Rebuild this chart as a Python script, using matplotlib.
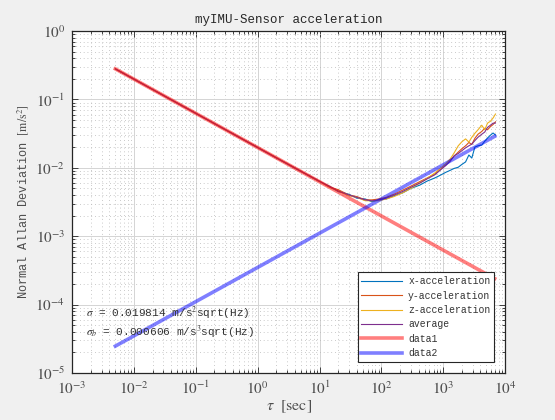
import math
import matplotlib
matplotlib.use("Agg")
import matplotlib.pyplot as plt
from matplotlib.ticker import LogLocator, FuncFormatter, NullFormatter

plt.rcParams['mathtext.fontset'] = 'stix'

# ---------------- data ----------------
tau = [0.005, 0.01, 0.02, 0.05, 0.1, 0.2, 0.5, 1, 2, 5, 10,
       15, 20, 30, 40, 55, 70, 90, 120, 160, 220, 300, 420, 550, 730,
       900, 1100, 1300, 1500, 1750, 2000, 2300, 2600, 2900, 3250, 3650,
       4200, 4700, 5200, 5800, 6400, 7000]

x_acc = [0.279, 0.198, 0.140, 0.0885, 0.0626, 0.0443, 0.0280, 0.0198, 0.0140, 0.00888, 0.00632,
         0.0053, 0.0045, 0.0041, 0.0036, 0.0035, 0.0032, 0.0034, 0.0035, 0.0039, 0.0043, 0.0050,
         0.0056, 0.0064, 0.0071,
         0.0078, 0.0086, 0.0092, 0.0098, 0.0102, 0.0112, 0.0122, 0.0154, 0.0139, 0.0201, 0.0210,
         0.0215, 0.0245, 0.0273, 0.0300, 0.0323, 0.0302]
y_acc = [0.280, 0.198, 0.140, 0.0887, 0.0627, 0.0443, 0.0281, 0.0199, 0.0141, 0.00892, 0.00636,
         0.0052, 0.0048, 0.0040, 0.0038, 0.0034, 0.0034, 0.0035, 0.0037, 0.0041, 0.0047, 0.0054,
         0.0063, 0.0071, 0.0081,
         0.0095, 0.0110, 0.0130, 0.0148, 0.0170, 0.0190, 0.0210, 0.0235, 0.0220, 0.0270, 0.0310,
         0.0340, 0.0380, 0.0360, 0.0400, 0.0430, 0.0470]
z_acc = [0.280, 0.198, 0.140, 0.0886, 0.0626, 0.0442, 0.0280, 0.0198, 0.0140, 0.00886, 0.00630,
         0.0051, 0.0046, 0.0039, 0.0037, 0.0033, 0.0033, 0.0033, 0.0035, 0.0038, 0.0043, 0.0050,
         0.0060, 0.0070, 0.0084,
         0.0098, 0.0115, 0.0135, 0.0165, 0.0210, 0.0240, 0.0265, 0.0238, 0.0280, 0.0320, 0.0360,
         0.0420, 0.0360, 0.0450, 0.0480, 0.0535, 0.0612]
avg_acc = [0.280, 0.198, 0.140, 0.0886, 0.0626, 0.0443, 0.0280, 0.0198, 0.0140, 0.00889, 0.00633,
           0.0052, 0.0046, 0.0040, 0.0037, 0.0034, 0.0033, 0.0034, 0.0036, 0.0040, 0.0045, 0.0052,
           0.0060, 0.0069, 0.0079,
           0.0093, 0.0108, 0.0125, 0.0150, 0.0162, 0.0178, 0.0196, 0.0210, 0.0222, 0.0250, 0.0280,
           0.0310, 0.0334, 0.0390, 0.0420, 0.0450, 0.0452]

tau_fit = [0.005, 6800]
data1 = [0.280, 2.40e-4]
data2 = [2.47e-5, 0.0289]

labels = ['x-acceleration', 'y-acceleration', 'z-acceleration', 'average', 'data1', 'data2']
sigma_text = ["$\\sigma$ = 0.019814 m/s$^2$sqrt(Hz)",
              "$\\sigma_b$ = 0.000606 m/s$^3$sqrt(Hz)"]
text_pos = [(0.0017, 7.3e-5), (0.0017, 3.85e-5)]

mono = 'Liberation Mono'

# ---------------- figure ----------------
fig = plt.figure(figsize=(5.55, 4.2), dpi=100, facecolor='#f0f0f0')
ax = fig.add_axes([0.13, 0.112, 0.78, 0.814])
ax.set_facecolor('white')

ax.loglog(tau, x_acc, color='#0072BD', lw=0.8, label=labels[0])
ax.loglog(tau, y_acc, color='#D95319', lw=0.8, label=labels[1])
ax.loglog(tau, z_acc, color='#EDB120', lw=0.8, label=labels[2])
ax.loglog(tau, avg_acc, color='#7E2F8E', lw=0.8, label=labels[3])
ax.loglog(tau_fit, data1, color=(1, 0, 0, 0.5), lw=2.6, label=labels[4])
ax.loglog(tau_fit, data2, color=(0, 0, 1, 0.5), lw=2.6, label=labels[5])

ax.set_xlim(1e-3, 1e4)
ax.set_ylim(1e-5, 1e0)

ax.xaxis.set_major_locator(LogLocator(base=10, numticks=20))
ax.yaxis.set_major_locator(LogLocator(base=10, numticks=20))
ax.xaxis.set_minor_locator(LogLocator(base=10, subs=range(2, 10), numticks=100))
ax.yaxis.set_minor_locator(LogLocator(base=10, subs=range(2, 10), numticks=100))
fmt = FuncFormatter(lambda v, p: "$10^{%d}$" % int(round(math.log10(v))))
ax.xaxis.set_major_formatter(fmt)
ax.yaxis.set_major_formatter(fmt)
ax.xaxis.set_minor_formatter(NullFormatter())
ax.yaxis.set_minor_formatter(NullFormatter())

ax.tick_params(which='both', direction='in', top=True, right=True, width=0.6, colors='#262626')
ax.tick_params(which='major', length=4, labelsize=11, pad=5)
ax.tick_params(which='minor', length=2)
for lab in ax.get_xticklabels() + ax.get_yticklabels():
    lab.set_color('#4d4d4d')

ax.grid(which='major', color='#d4d4d4', lw=0.7, ls='-')
ax.grid(which='minor', color='#b8b8b8', lw=0.6, ls=(0, (1, 3.5)))
ax.set_axisbelow(True)
for s in ax.spines.values():
    s.set_linewidth(0.9)
    s.set_color('#262626')

ax.set_title("myIMU-Sensor acceleration", fontfamily=mono, fontsize=9, color='#262626', pad=6)
ax.set_xlabel("$\\tau\\ \\ [\\mathrm{sec}]$", fontsize=11.5, color='#4d4d4d', labelpad=1)
ax.set_ylabel("Normal Allan Deviation $[\\mathrm{m/s}^2]$", fontfamily=mono, fontsize=8.6,
              color='#4d4d4d', labelpad=3)

for t, (px, py) in zip(sigma_text, text_pos):
    ax.text(px, py, t, fontfamily=mono, fontsize=8, color='#333333', va='center', ha='left')

leg = ax.legend(loc='lower right', bbox_to_anchor=(0.975, 0.032), prop={'family': mono, 'size': 7},
                frameon=True, fancybox=False, framealpha=1, edgecolor='#262626',
                handlelength=4.2, handletextpad=0.6, labelspacing=0.45, borderpad=0.4,
                borderaxespad=0)
leg.get_frame().set_linewidth(0.8)
for t in leg.get_texts():
    t.set_color('#333333')

fig.savefig("out.png", dpi=100, facecolor=fig.get_facecolor())
